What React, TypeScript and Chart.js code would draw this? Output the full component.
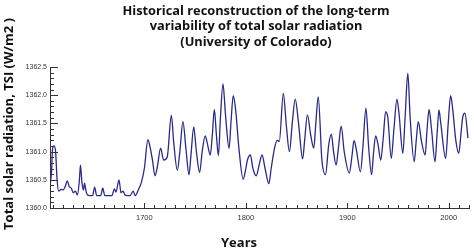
import React, { useEffect, useRef } from "react";
import { Chart, registerables } from "chart.js";

Chart.register(...registerables);

const TITLE_LINES = [
  "Historical reconstruction of the long-term",
  "variability of total solar radiation",
  "(University of Colorado)",
];
const X_TITLE = "Years";
const Y_TITLE = "Total solar radiation, TSI (W/m2 )";

const X_MIN = 1607;
const X_MAX = 2020;
const X_TICK_LABELS = [1700, 1800, 1900, 2000];
const X_MINOR_STEP = 10;
const Y_MIN = 1360.0;
const Y_MAX = 1362.5;
const Y_MINOR_STEP = 0.1;
const Y_LABEL_STEP = 0.5;

const YEARS = [
  1607.5, 1608.5, 1609.5, 1611, 1612.5, 1614, 1615.5, 1618, 1620, 1622, 1624, 1626, 1628, 1630,
  1632, 1634, 1636, 1637, 1638.5, 1640, 1641, 1642.5, 1644, 1646, 1649, 1651, 1653, 1657, 1659,
  1661, 1668, 1670.5, 1672, 1675, 1677, 1679, 1681, 1686, 1689, 1691, 1694, 1697, 1700, 1703.5,
  1706, 1708, 1710.5, 1713, 1716, 1719, 1722.5, 1726.6, 1729, 1732.5, 1735, 1738, 1741, 1744,
  1746, 1748.7, 1751, 1754.5, 1757, 1760, 1762, 1765, 1767, 1769, 1771, 1773, 1775, 1777.5, 1780,
  1783.5, 1785.5, 1787.6, 1790, 1793, 1797.4, 1800, 1801.6, 1804.5, 1807, 1810.3, 1813, 1816,
  1819, 1822.7, 1825, 1828, 1830.8, 1833, 1837, 1840, 1843, 1846, 1848.7, 1852, 1856, 1858,
  1860.7, 1864, 1867, 1869, 1871.4, 1875, 1878.5, 1881.8, 1884.3, 1886.5, 1889, 1891.5, 1894,
  1897, 1902, 1904.5, 1906.7, 1909, 1913, 1915.5, 1918.4, 1921, 1924, 1926, 1928, 1930.4, 1933,
  1935.5, 1937.8, 1940, 1943.4, 1946, 1949, 1951, 1954.8, 1957, 1959.7, 1962, 1966, 1968, 1970,
  1973, 1976.8, 1978.5, 1980.6, 1983, 1986.5, 1988.5, 1990.4, 1992, 1997, 1999.5, 2001.9, 2004,
  2007, 2009.9, 2012, 2013.8, 2016, 2019,
];

const TSI = [
  1360.45, 1360.65, 1361.05, 1361.1, 1361.0, 1360.5, 1360.3, 1360.33, 1360.32, 1360.38, 1360.48,
  1360.38, 1360.35, 1360.27, 1360.3, 1360.23, 1360.5, 1360.76, 1360.45, 1360.32, 1360.44, 1360.3,
  1360.23, 1360.22, 1360.22, 1360.37, 1360.22, 1360.22, 1360.35, 1360.22, 1360.22, 1360.34,
  1360.28, 1360.5, 1360.27, 1360.3, 1360.23, 1360.22, 1360.3, 1360.22, 1360.32, 1360.45, 1360.7,
  1361.21, 1361.05, 1360.85, 1360.57, 1360.75, 1361.06, 1360.85, 1360.9, 1361.64, 1361.15,
  1360.67, 1361.0, 1361.53, 1361.05, 1360.59, 1360.95, 1361.44, 1361.05, 1360.63, 1361.0,
  1361.28, 1361.15, 1360.94, 1361.3, 1361.75, 1361.3, 1360.93, 1361.6, 1362.2, 1361.65, 1361.06,
  1361.55, 1361.99, 1361.74, 1361.1, 1360.51, 1360.7, 1360.85, 1360.94, 1360.7, 1360.57, 1360.75,
  1360.94, 1360.7, 1360.43, 1360.7, 1361.03, 1361.2, 1361.18, 1362.03, 1361.45, 1361.0, 1361.55,
  1361.93, 1361.5, 1360.87, 1361.2, 1361.65, 1361.29, 1361.06, 1361.5, 1361.97, 1360.85, 1360.59,
  1361.13, 1361.31, 1361.0, 1360.76, 1361.1, 1361.45, 1361.0, 1360.62, 1360.9, 1361.2, 1361.03,
  1360.64, 1361.1, 1361.77, 1361.1, 1360.59, 1361.0, 1361.28, 1361.12, 1360.85, 1361.25, 1361.71,
  1361.6, 1360.88, 1361.4, 1361.93, 1361.68, 1360.97, 1361.6, 1362.39, 1361.6, 1360.82, 1361.2,
  1361.53, 1361.2, 1360.94, 1361.35, 1361.75, 1361.41, 1360.82, 1361.3, 1361.74, 1361.53,
  1360.88, 1361.5, 1361.99, 1361.74, 1361.2, 1360.97, 1361.3, 1361.61, 1361.68, 1361.24,
];

const LINE_COLOR = "#29298c";
const AXIS_COLOR = "#333333";
const TEXT_COLOR = "#111111";
const TITLE_FONT = '"Open Sans", sans-serif';

const overlayPlugin = {
  id: "overlay",
  afterDraw(chart: any) {
    const ctx = chart.ctx as CanvasRenderingContext2D;
    const { left, bottom } = chart.chartArea;
    const xs = chart.scales.x;
    const ys = chart.scales.y;
    ctx.save();
    ctx.strokeStyle = AXIS_COLOR;
    ctx.lineWidth = 1;
    ctx.beginPath();
    for (const t of xs.ticks) {
      const px = Math.round(xs.getPixelForValue(t.value)) + 0.5;
      const len = X_TICK_LABELS.includes(t.value) ? 5 : 3;
      ctx.moveTo(px, bottom);
      ctx.lineTo(px, bottom - len);
    }
    for (const t of ys.ticks) {
      const py = Math.round(ys.getPixelForValue(t.value)) + 0.5;
      const r = t.value / Y_LABEL_STEP;
      const major = Math.abs(r - Math.round(r)) < 1e-6;
      const len = major ? 8 : 4;
      ctx.moveTo(left, py);
      ctx.lineTo(left + len, py);
    }
    ctx.stroke();

    ctx.fillStyle = TEXT_COLOR;
    ctx.textAlign = "center";
    ctx.textBaseline = "middle";
    ctx.font = `bold 12.8px ${TITLE_FONT}`;
    TITLE_LINES.forEach((t, i) => ctx.fillText(t, 256, 11 + i * 15.5));
    ctx.font = `bold 13px ${TITLE_FONT}`;
    ctx.fillText(X_TITLE, 239, 243);
    ctx.translate(9, 124);
    ctx.rotate(-Math.PI / 2);
    ctx.fillText(Y_TITLE, 0, 0);
    ctx.restore();
  },
};

export default function App() {
  const canvasRef = useRef<HTMLCanvasElement | null>(null);

  useEffect(() => {
    document.body.style.margin = "0";
    const canvas = canvasRef.current;
    if (!canvas) return;
    const chart = new Chart(canvas, {
      type: "line",
      data: {
        datasets: [
          {
            data: YEARS.map((x, i) => ({ x, y: TSI[i] })),
            borderColor: LINE_COLOR,
            borderWidth: 1.3,
            pointRadius: 0,
            fill: false,
            cubicInterpolationMode: "monotone",
          },
        ],
      },
      options: {
        animation: false,
        responsive: true,
        maintainAspectRatio: false,
        layout: { padding: { top: 67, left: 0, right: 0, bottom: 0 } },
        plugins: {
          legend: { display: false },
          title: { display: false },
          tooltip: { enabled: false },
        },
        scales: {
          x: {
            type: "linear",
            min: X_MIN,
            max: X_MAX,
            afterBuildTicks: (scale: any) => {
              const ticks = [];
              for (let v = Math.ceil(X_MIN / X_MINOR_STEP) * X_MINOR_STEP; v <= X_MAX; v += X_MINOR_STEP) {
                ticks.push({ value: v });
              }
              scale.ticks = ticks;
            },
            afterFit: (scale: any) => {
              scale.height = 42;
            },
            grid: { display: false, drawTicks: false },
            border: { display: true, color: AXIS_COLOR, width: 1 },
            ticks: {
              autoSkip: false,
              maxRotation: 0,
              padding: 5,
              color: "#333",
              font: { family: '"Liberation Sans", sans-serif', size: 7.5 },
              callback: (v: any) => (X_TICK_LABELS.includes(Number(v)) ? String(v) : ""),
            },
          },
          y: {
            type: "linear",
            min: Y_MIN,
            max: Y_MAX,
            afterFit: (scale: any) => {
              scale.width = 50;
            },
            grid: { display: false, drawTicks: false },
            border: { display: true, color: AXIS_COLOR, width: 1 },
            ticks: {
              stepSize: Y_MINOR_STEP,
              autoSkip: false,
              padding: 3,
              color: "#333",
              font: { family: '"Liberation Sans", sans-serif', size: 7 },
              callback: (v: any) => {
                const r = Number(v) / Y_LABEL_STEP;
                return Math.abs(r - Math.round(r)) < 1e-6 ? Number(v).toFixed(1) : "";
              },
            },
          },
        },
      },
      plugins: [overlayPlugin],
    });
    return () => chart.destroy();
  }, []);

  return (
    <div style={{ width: 474, height: 250, position: "relative" }}>
      <canvas ref={canvasRef} />
    </div>
  );
}
